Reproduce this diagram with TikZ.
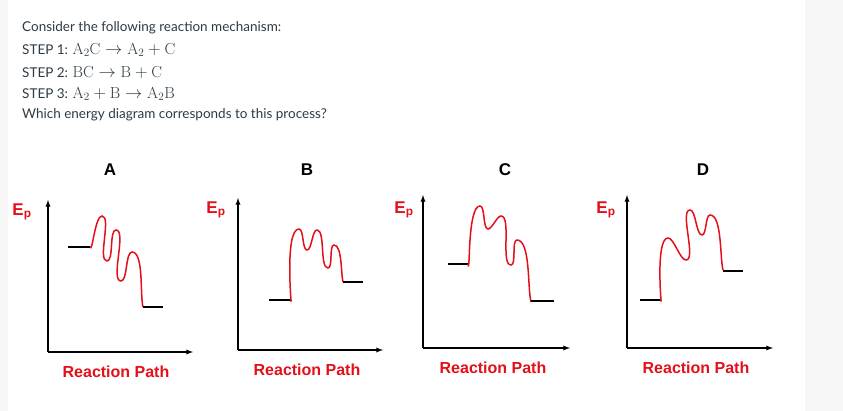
\documentclass[tikz,border=0pt]{standalone}
\usepackage{fontspec}
\newfontfamily\lato{Lato}
\newfontfamily\arialf{Liberation Sans}
\newcommand\mfs{\fontsize{16}{18}\selectfont}
\begin{document}
\begin{tikzpicture}[x=1pt,y=-1pt,
  qtext/.style={anchor=west,inner sep=0pt,font=\lato\fontsize{13.5}{15}\selectfont,text=qcol},
  letter/.style={font=\arialf\bfseries\fontsize{17}{19}\selectfont},
  rp/.style={font=\arialf\bfseries\fontsize{16}{18}\selectfont,text=ered},
  eplab/.style={font=\arialf\bfseries\fontsize{17}{19}\selectfont,text=ered},
  axis/.style={line width=1.3pt,-latex},
  lvl/.style={line width=1.5pt,black},
  curve/.style={line width=1.5pt,ered,looseness=0.55}]
\definecolor{qcol}{HTML}{2D3B45}
\definecolor{ered}{HTML}{E3101A}
\fill[gray!6] (0,0) rectangle (843,411);
\fill[white] (8,0) rectangle (805,411);
\useasboundingbox (0,0) rectangle (843,411);
\node[qtext] (t1) at (22,28) {Consider the following reaction mechanism:};
\node[qtext] (t2) at (22,50) {STEP 1: {\mfs$\mathrm{A_2C \rightarrow A_2 + C}$}};
\node[qtext] (t3) at (22,72) {STEP 2: {\mfs$\mathrm{BC \rightarrow B + C}$}};
\node[qtext] (t4) at (22,94) {STEP 3: {\mfs$\mathrm{A_2 + B \rightarrow A_2B}$}};
\node[qtext] (t5) at (22,115) {Which energy diagram corresponds to this process?};
% A
\node[letter] (la) at (110,170) {A};
\coordinate (oa) at (48,352);
\draw[axis] (oa) -- (48,200);
\draw[axis] (oa) -- (193,352);
\node[eplab] (ea) at (22,212) {E\textsubscript{p}};
\node[rp] (ra) at (116,372) {Reaction Path};
\draw[lvl] (68,247) -- (90,247);
\draw[curve] (90,247) to[out=-70,in=180] (102,216) to[out=0,in=180] (107,261) to[out=0,in=180] (116,230) to[out=0,in=180] (121,281) to[out=0,in=180] (132,252) to[out=0,in=105] (143,307);
\draw[lvl] (143,307) -- (163,307);
% B
\node[letter] (lb) at (307,170) {B};
\coordinate (ob) at (238,350);
\draw[axis] (ob) -- (238,198);
\draw[axis] (ob) -- (383,350);
\node[eplab] (eb) at (216,210) {E\textsubscript{p}};
\node[rp] (rb) at (307,370) {Reaction Path};
\draw[lvl] (269,300) -- (291,300);
\draw[curve] (291,300) to[out=-85,in=180] (299,229) to[out=0,in=180] (307,250) to[out=0,in=180] (317,230) to[out=0,in=180] (328,268) to[out=0,in=180] (334,245) to[out=0,in=105] (343,282);
\draw[lvl] (343,282) -- (363,282);
% C
\node[letter] (lc) at (505,170) {C};
\coordinate (oc) at (423,348);
\draw[axis] (oc) -- (423,195);
\draw[axis] (oc) -- (570,348);
\node[eplab] (ec) at (404,210) {E\textsubscript{p}};
\node[rp] (rc) at (493,368) {Reaction Path};
\draw[lvl] (448,264) -- (468,264);
\draw[curve] (468,264) to[out=-80,in=180] (480,206) to[out=0,in=180] (488,229) to[out=0,in=180] (501,216) to[out=0,in=180] (511,265) to[out=0,in=180] (517,240) to[out=0,in=105] (531,302);
\draw[lvl] (531,301) -- (554,301);
% D
\node[letter] (ld) at (703,170) {D};
\coordinate (od) at (627,348);
\draw[axis] (od) -- (627,195);
\draw[axis] (od) -- (773,348);
\node[eplab] (ed) at (606,210) {E\textsubscript{p}};
\node[rp] (rd) at (696,368) {Reaction Path};
\draw[lvl] (640,300) -- (661,300);
\draw[curve] (661,300) to[out=-85,in=180] (668,238) to[out=0,in=180] (686,260) to[out=0,in=180] (690,210) to[out=0,in=180] (702,235) to[out=0,in=180] (710,215) to[out=0,in=105] (723,270);
\draw[lvl] (723,271) -- (743,271);
\end{tikzpicture}
\end{document}
